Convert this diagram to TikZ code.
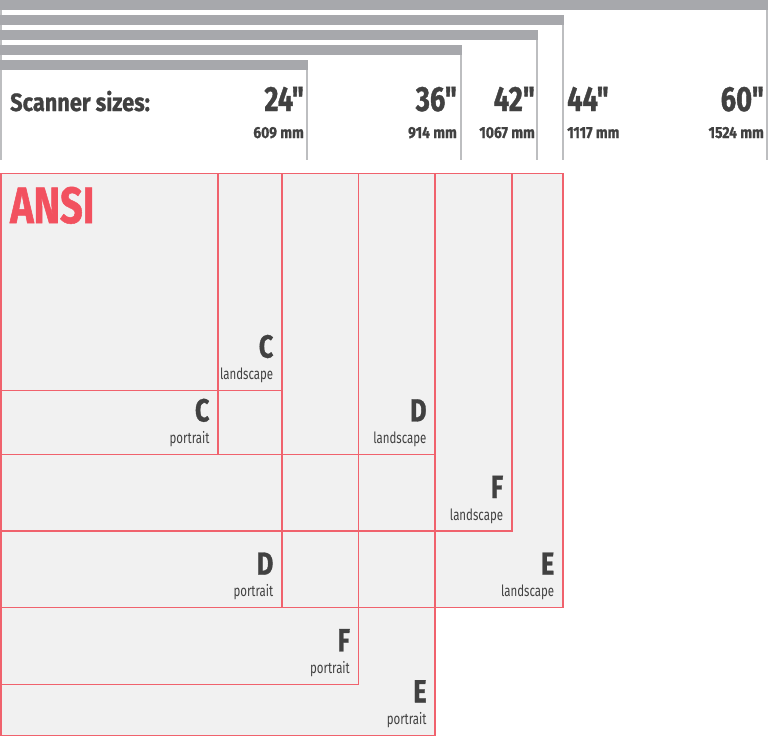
\documentclass[tikz,border=0pt]{standalone}
\usepackage{fontspec}
\newfontfamily\cf[FakeStretch=0.78,Ligatures=TeXOff,BoldFeatures={FakeBold=1}]{Fira Sans}
\newfontfamily\cfn[FakeStretch=0.74,Ligatures=TeXOff]{Fira Sans}
\newfontfamily\cfw[FakeStretch=0.87,Ligatures=TeXOff,BoldFeatures={FakeBold=1}]{Fira Sans}
\usetikzlibrary{calc}
\definecolor{bargray}{HTML}{A7A8AC}
\definecolor{linegray}{HTML}{BDBEC0}
\definecolor{sheetfill}{HTML}{F1F1F1}
\definecolor{sheetred}{HTML}{F0626D}
\definecolor{ink}{HTML}{414141}
\definecolor{ansired}{HTML}{F2515F}
\tikzset{
  bar/.style={fill=bargray},
  scanline/.style={draw=linegray,line width=2pt},
  sheet/.style={fill=sheetfill},
  sheetedge/.style={draw=sheetred,line width=1.5pt},
  txt/.style={inner sep=0pt,text=ink},
  headlbl/.style={txt,font=\cfw\bfseries\fontsize{25}{25}\selectfont},
  inchlbl/.style={txt,font=\cf\bfseries\fontsize{35}{35}\selectfont},
  mmlbl/.style={txt,font=\cfw\bfseries\fontsize{16}{16}\selectfont},
  ansilbl/.style={inner sep=0pt,text=ansired,font=\cf\bfseries\fontsize{51}{51}\selectfont},
  letterlbl/.style={txt,font=\cf\bfseries\fontsize{32}{32}\selectfont},
  orientlbl/.style={txt,font=\cfn\fontsize{15.5}{15.5}\selectfont},
}
\begin{document}
\begin{tikzpicture}[x=1pt,y=-1pt]
\useasboundingbox (0,0) rectangle (768,737);
% scanner frames
\foreach \R/\t in {60/0,44/15,42/30,36/45,24/60}{
  \draw[scanline] (1,\t) -- (1,160);
  \draw[scanline] ({1+12.77*\R},\t) -- ({1+12.77*\R},160);
}
\foreach \R/\t in {60/0,44/15,42/30,36/45,24/60}{
  \fill[bar] (0,\t) rectangle ({min(768,2+12.77*\R)},{\t+10});
}
% scanner labels
\node[headlbl,anchor=base west] (head) at (10,111) {Scanner sizes:};
\node[inchlbl,anchor=base east] (i24) at (304,111) {24"};
\node[mmlbl,anchor=base east] (m24) at (304,138) {609 mm};
\node[inchlbl,anchor=base east] (i36) at (457,111) {36"};
\node[mmlbl,anchor=base east] (m36) at (457,138) {914 mm};
\node[inchlbl,anchor=base east] (i42) at (535,111) {42"};
\node[mmlbl,anchor=base east] (m42) at (535,138) {1067 mm};
\node[inchlbl,anchor=base west] (i44) at (567,111) {44"};
\node[mmlbl,anchor=base west] (m44) at (567,138) {1117 mm};
\node[inchlbl,anchor=base east] (i60) at (764,111) {60"};
\node[mmlbl,anchor=base east] (m60) at (764,138) {1524 mm};
% ANSI sheets
\coordinate (O) at (1,173.5);
\foreach \n/\w/\h in {Ep/34/44,El/44/34,Fp/28/40,Fl/40/28,Dp/22/34,Dl/34/22,Cp/17/22,Cl/22/17}{
  \coordinate (\n) at ({1+12.77*\w},{173.5+12.77*\h});
  \fill[sheet] (O) rectangle (\n);
}
\foreach \n in {Ep,El,Fp,Fl,Dp,Dl,Cp,Cl}{
  \draw[sheetedge] (O) rectangle (\n);
}
\node[ansilbl,anchor=base west] (ansi) at (10,223) {ANSI};
\foreach \n/\L/\o in {Cl/C/landscape,Cp/C/portrait,Dl/D/landscape,Dp/D/portrait,Fl/F/landscape,Fp/F/portrait,El/E/landscape,Ep/E/portrait}{
  \node[letterlbl,anchor=base east] (\n-L) at ($(\n)+(-8.5,-33)$) {\L};
  \node[orientlbl,anchor=base east] (\n-O) at ($(\n)+(-8.5,-11)$) {\o};
}
\end{tikzpicture}
\end{document}
